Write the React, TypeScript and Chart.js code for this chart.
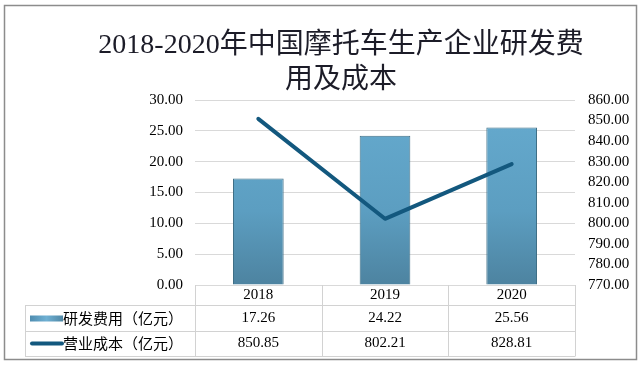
import React, { useEffect, useRef } from 'react';
import { Chart, registerables } from 'chart.js';

Chart.register(...registerables);

const titleLines = ['2018-2020年中国摩托车生产企业研发费', '用及成本'];
const categories = ['2018', '2019', '2020'];
const rdExpense = [17.26, 24.22, 25.56];
const operatingCost = [850.85, 802.21, 828.81];
const seriesNames = ['研发费用（亿元）', '营业成本（亿元）'];
const leftAxis = { min: 0, max: 30, step: 5 };
const rightAxis = { min: 770, max: 860, step: 10 };

const NUM_FONT = "'Liberation Serif', serif";
const CJK_FONT = "'Noto Sans CJK SC', sans-serif";

function barGradient(c: CanvasRenderingContext2D, top: number, bottom: number) {
  const g = c.createLinearGradient(0, top, 0, bottom);
  g.addColorStop(0, '#66abcf');
  g.addColorStop(0.6, '#5c9ec1');
  g.addColorStop(1, '#4d83a0');
  return g;
}

const decorPlugin = {
  id: 'decor',
  afterDraw(chart: any) {
    const c: CanvasRenderingContext2D = chart.ctx;
    const area = chart.chartArea;
    const xs = chart.scales.x;
    const n = categories.length;
    const colW = (area.right - area.left) / n;
    c.save();

    // outer border
    c.strokeStyle = '#8c8c8c';
    c.lineWidth = 1.5;
    c.strokeRect(4.5, 5.5, 632, 354);

    // title
    c.fillStyle = '#1c1c28';
    c.font = `28px 'Liberation Serif', ${CJK_FONT}`;
    c.textAlign = 'center';
    c.textBaseline = 'middle';
    c.fillText(titleLines[0], 341, 46);
    c.fillText(titleLines[1], 341, 81);

    // table grid
    const tableLeft = 25;
    const hLines = [305.5, 331.5, 356.5];
    const top = area.bottom;
    const bottom = hLines[2];
    c.strokeStyle = '#d2d2d2';
    c.lineWidth = 1;
    c.beginPath();
    for (const y of hLines) {
      c.moveTo(tableLeft, y);
      c.lineTo(area.right, y);
    }
    c.moveTo(tableLeft + 0.5, hLines[0]);
    c.lineTo(tableLeft + 0.5, bottom);
    for (let i = 0; i <= n; i++) {
      const x = Math.round(area.left + i * colW) + 0.5;
      c.moveTo(x, top);
      c.lineTo(x, bottom);
    }
    c.stroke();

    // header and values
    c.fillStyle = '#000';
    c.font = `15px ${NUM_FONT}`;
    c.textAlign = 'center';
    const rowY = [295.5, 318.5, 343.5];
    categories.forEach((cat, i) => {
      const cx = xs.getPixelForValue(i);
      c.fillText(cat, cx, rowY[0]);
      c.fillText(rdExpense[i].toFixed(2), cx, rowY[1]);
      c.fillText(operatingCost[i].toFixed(2), cx, rowY[2]);
    });

    // row labels
    c.font = `15px ${CJK_FONT}`;
    c.textAlign = 'left';
    c.fillText(seriesNames[0], 63, rowY[1]);
    c.fillText(seriesNames[1], 63, rowY[2]);

    // legend keys
    const lg = c.createLinearGradient(30, 0, 63, 0);
    lg.addColorStop(0, '#4f8db0');
    lg.addColorStop(0.5, '#6fb0d3');
    lg.addColorStop(1, '#4f87a5');
    c.fillStyle = lg;
    c.fillRect(30, rowY[1] - 3, 33, 6);
    c.strokeStyle = '#13587e';
    c.lineWidth = 4;
    c.lineCap = 'round';
    c.beginPath();
    c.moveTo(32, rowY[2]);
    c.lineTo(62, rowY[2]);
    c.stroke();

    c.restore();
  },
};

export default function App() {
  const ref = useRef<HTMLCanvasElement | null>(null);

  useEffect(() => {
    document.body.style.margin = '0';
    const canvas = ref.current;
    if (!canvas) return;
    const chart = new Chart(canvas, {
      type: 'bar',
      data: {
        labels: categories,
        datasets: [
          {
            type: 'line',
            label: seriesNames[1],
            data: operatingCost,
            yAxisID: 'y1',
            borderColor: '#13587e',
            borderWidth: 4,
            borderCapStyle: 'round',
            borderJoinStyle: 'round',
            pointRadius: 0,
            tension: 0,
            order: 0,
          } as any,
          {
            type: 'bar',
            label: seriesNames[0],
            data: rdExpense,
            yAxisID: 'y',
            backgroundColor: (ctx: any) => {
              const area = ctx.chart.chartArea;
              if (!area) return '#5fa3c6';
              return barGradient(ctx.chart.ctx, area.top, area.bottom);
            },
            borderColor: '#3f6f86',
            borderWidth: 1,
            categoryPercentage: 1,
            barPercentage: 0.4,
            order: 1,
          } as any,
        ],
      },
      options: {
        responsive: false,
        animation: false,
        layout: { padding: { top: 100, bottom: 81, left: 0, right: 0 } },
        plugins: {
          legend: { display: false },
          title: { display: false },
          tooltip: { enabled: false },
        },
        scales: {
          x: {
            display: false,
            offset: true,
          },
          y: {
            position: 'left',
            min: leftAxis.min,
            max: leftAxis.max,
            ticks: {
              stepSize: leftAxis.step,
              autoSkip: false,
              padding: 12,
              color: '#000',
              font: { family: NUM_FONT, size: 15 },
              callback: (v: any) => Number(v).toFixed(2),
            },
            grid: { color: '#d9d9d9', drawTicks: false, lineWidth: 1 },
            border: { display: false },
            afterFit: (s: any) => {
              s.width = 195;
            },
          },
          y1: {
            position: 'right',
            min: rightAxis.min,
            max: rightAxis.max,
            ticks: {
              stepSize: rightAxis.step,
              autoSkip: false,
              padding: 13,
              color: '#000',
              font: { family: NUM_FONT, size: 15 },
              callback: (v: any) => Number(v).toFixed(2),
            },
            grid: { display: false, drawTicks: false, drawOnChartArea: false },
            border: { display: false },
            afterFit: (s: any) => {
              s.width = 65;
            },
          },
        },
      } as any,
      plugins: [decorPlugin],
    });
    return () => chart.destroy();
  }, []);

  return (
    <div style={{ width: 640, height: 366, background: '#fff' }}>
      <canvas ref={ref} width={640} height={366} style={{ display: 'block' }} />
    </div>
  );
}
